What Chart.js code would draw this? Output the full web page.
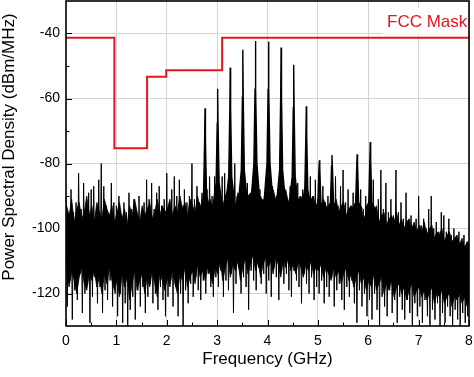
<!DOCTYPE html>
<html>
<head>
<meta charset="utf-8">
<script src="https://cdn.jsdelivr.net/npm/chart.js@4.4.0/dist/chart.umd.min.js"></script>
<style>
  body { margin: 0; background: #fff; }
</style>
</head>
<body>
<canvas id="psd-chart" width="474" height="377"></canvas>
<script>
// tick labels
var xTicks = [0, 1, 2, 3, 4, 5, 6, 7, 8];
var yTicks = [-120, -100, -80, -60, -40];
var xMinor = [0.5, 1.5, 2.5, 3.5, 4.5, 5.5, 6.5, 7.5];
var yMinor = [-110, -90, -70, -50];

// FCC indoor mask (GHz, dBm/MHz)
var maskFreqs = [0, 0.96, 1.61, 1.99, 3.1, 8];
var maskLevels = [-41.3, -75.3, -53.3, -51.3, -41.3, -41.3];

// spectral lines of the pulse train
var peakFreqs = [2.76, 3.01, 3.26, 3.51, 3.76, 4.02, 4.27, 4.52, 4.77, 5.03, 5.28, 5.78, 6.04];
var peakLevels = [-63, -57, -50.5, -45, -42.3, -42.5, -44.3, -49.6, -62.4, -79, -77.4, -77.2, -73.4];
var peakSkirt = [-90, -86, -84, -82, -80, -80, -82, -84, -88, -92, -92, -92, -92];

// noise floor, sampled every 0.05 GHz
// spikes: tops and bottoms of the trace
var noiseStep = 0.05;
var noiseHi = [
  -90, -97, -88, -95, -92, -83, -94, -86, -96, -89, -88, -87, -95, -85, -80, -87, -93, -96, -86, -92,
  -93, -90, -96, -92, -95, -89, -94, -91, -96, -90, -95, -92, -85, -91, -86, -94, -89, -87, -93, -91,
  -83, -94, -88, -84, -90, -85, -93, -88, -92, -90, -80, -91, -87, -92, -89, -91, -88, -84, -90, -84,
  -88, -90, -84, -83, -91, -88, -90, -80, -90, -88, -85, -90, -86, -91, -89, -88, -90, -88, -91, -89,
  -88, -90, -87, -91, -88, -86, -90, -89, -91, -87, -88, -90, -86, -90, -88, -87, -89, -84, -90, -85,
  -91, -87, -87, -92, -90, -93, -91, -84, -93, -87, -82, -92, -88, -93, -89, -94, -92, -88, -94, -90,
  -95, -92, -85, -95, -91, -82, -94, -86, -95, -91, -96, -82, -95, -92, -97, -89, -98, -96, -99, -97,
  -90, -99, -97, -100, -94, -90, -100, -98, -101, -95, -96, -101, -97, -102, -100, -103, -101, -104, -102, -105,
  -104
];
var noiseLo = [
  -124, -116, -128, -119, -122, -114, -126, -120, -117, -129, -121, -115, -123, -118, -126, -119, -122, -116, -124, -120,
  -127, -120, -129, -123, -130, -125, -121, -128, -119, -124, -118, -126, -121, -117, -123, -120, -125, -118, -122, -127,
  -121, -116, -124, -118, -127, -120, -130, -119, -123, -117, -121, -115, -119, -122, -116, -120, -114, -118, -121, -115,
  -118, -113, -121, -116, -119, -114, -126, -117, -112, -120, -115, -118, -125, -113, -116, -119, -112, -117, -114, -120,
  -116, -121, -112, -115, -122, -113, -117, -114, -119, -121, -113, -116, -118, -123, -114, -117, -120, -115, -122, -118,
  -120, -116, -123, -118, -121, -115, -124, -119, -117, -122, -125, -118, -121, -116, -123, -129, -119, -124, -120, -127,
  -122, -128, -120, -125, -130, -121, -124, -127, -119, -126, -122, -129, -121, -125, -128, -122, -126, -130, -123, -127,
  -124, -129, -122, -127, -130, -125, -128, -123, -130, -126, -129, -124, -127, -130, -125, -128, -130, -126, -129, -127,
  -130
];
// ragged upper and lower edges of the solid band
var bandTop = [
  -93, -96, -91, -98, -94, -92, -97, -95, -90, -96, -93, -98, -92, -95, -97, -91, -94, -96, -93, -98,
  -95, -92, -97, -94, -99, -93, -96, -91, -95, -98, -93, -96, -94, -92, -97, -95, -91, -96, -93, -95,
  -94, -91, -96, -93, -95, -90, -94, -92, -96, -91, -93, -95, -90, -94, -92, -89, -93, -91, -94, -90,
  -92, -89, -93, -90, -88, -92, -90, -93, -89, -91, -88, -92, -90, -89, -93, -88, -91, -90, -92, -89,
  -90, -92, -88, -91, -89, -93, -90, -88, -92, -90, -89, -93, -91, -90, -92, -89, -93, -91, -90, -94,
  -92, -94, -91, -93, -95, -92, -94, -91, -95, -93, -92, -96, -94, -93, -95, -92, -96, -94, -97, -95,
  -94, -97, -95, -93, -98, -96, -95, -99, -97, -96, -98, -95, -99, -97, -100, -98, -97, -100, -98, -101,
  -99, -101, -98, -102, -100, -99, -103, -101, -102, -100, -104, -102, -101, -104, -103, -102, -105, -103, -106, -104,
  -105
];
var bandBottom = [
  -114, -118, -113, -116, -120, -115, -112, -117, -119, -114, -116, -113, -118, -115, -120, -114, -117, -112, -116, -119,
  -116, -121, -114, -118, -115, -122, -117, -113, -119, -116, -114, -120, -115, -118, -113, -117, -121, -114, -116, -119,
  -115, -118, -113, -117, -120, -114, -116, -112, -118, -115, -113, -117, -111, -115, -113, -116, -112, -114, -117, -112,
  -114, -110, -116, -112, -109, -115, -111, -113, -110, -116, -112, -109, -114, -111, -108, -113, -110, -115, -111, -109,
  -112, -110, -114, -109, -111, -115, -110, -112, -109, -113, -111, -114, -110, -112, -115, -111, -113, -110, -114, -112,
  -113, -111, -115, -112, -114, -116, -112, -115, -113, -117, -114, -112, -116, -114, -118, -115, -113, -117, -115, -119,
  -116, -118, -114, -119, -117, -115, -120, -117, -119, -116, -121, -118, -117, -120, -118, -122, -119, -117, -121, -119,
  -118, -121, -119, -122, -120, -118, -123, -120, -121, -119, -123, -121, -120, -124, -121, -122, -120, -123, -121, -124,
  -122
];

var FONT = "'Liberation Sans', Arial, sans-serif";
Chart.defaults.font.family = FONT;
Chart.defaults.color = '#000';

// build the point lists
var maskData = [];
for (var i = 0; i < maskFreqs.length; i++) {
    maskData.push({x: maskFreqs[i], y: maskLevels[i]});
}

var noiseData = [];
for (var i = 0; i < noiseHi.length; i++) {
    noiseData.push({x: i * noiseStep, y: noiseHi[i]});
    noiseData.push({x: (i + 0.5) * noiseStep, y: noiseLo[i]});
}

var bandTopData = [], bandBottomData = [];
for (var i = 0; i < bandTop.length; i++) {
    bandTopData.push({x: (i + 0.25) * noiseStep, y: bandTop[i]});
    bandBottomData.push({x: (i + 0.25) * noiseStep, y: bandBottom[i]});
}

var peakData = [];
for (var i = 0; i < peakFreqs.length; i++) {
    var f = peakFreqs[i];
    peakData.push({x: f - 0.1, y: -94});
    peakData.push({x: f - 0.03, y: peakSkirt[i]});
    peakData.push({x: f - 0.008, y: (peakSkirt[i] + peakLevels[i]) / 2 + 4});
    peakData.push({x: f, y: peakLevels[i]});
    peakData.push({x: f + 0.008, y: (peakSkirt[i] + peakLevels[i]) / 2 + 4});
    peakData.push({x: f + 0.03, y: peakSkirt[i]});
    peakData.push({x: f + 0.1, y: -94});
    peakData.push({x: f + 0.1, y: null});
}

// frame, inner ticks, axis titles, legend label
var framePlugin = {
    id: 'frame',
    beforeDatasetsDraw: function(chart) {
        var ctx = chart.ctx;
        ctx.save();
        ctx.fillStyle = '#fff';
        ctx.fillRect(383, 8, chart.chartArea.right - 384, 26.5);
        ctx.restore();
    },
    afterDraw: function(chart) {
        var ctx = chart.ctx, a = chart.chartArea;
        var xs = chart.scales.x, ys = chart.scales.y;
        ctx.save();
        ctx.strokeStyle = '#000';
        ctx.lineWidth = 1;
        ctx.beginPath();
        yTicks.forEach(function(v) {
            var py = Math.round(ys.getPixelForValue(v)) + 0.5;
            ctx.moveTo(a.left, py); ctx.lineTo(a.left + 6, py);
        });
        yMinor.forEach(function(v) {
            var py = Math.round(ys.getPixelForValue(v)) + 0.5;
            ctx.moveTo(a.left, py); ctx.lineTo(a.left + 3.5, py);
        });
        xTicks.forEach(function(v) {
            var px = Math.round(xs.getPixelForValue(v)) + 0.5;
            ctx.moveTo(px, a.bottom); ctx.lineTo(px, a.bottom - 6);
        });
        xMinor.forEach(function(v) {
            var px = Math.round(xs.getPixelForValue(v)) + 0.5;
            ctx.moveTo(px, a.bottom); ctx.lineTo(px, a.bottom - 3.5);
        });
        ctx.stroke();

        ctx.lineWidth = 1.6;
        ctx.strokeRect(a.left, a.top, a.right - a.left, a.bottom - a.top);

        ctx.fillStyle = '#000';
        ctx.font = '17px ' + FONT;
        ctx.textAlign = 'center';
        ctx.textBaseline = 'middle';
        ctx.fillText('Frequency (GHz)', (a.left + a.right) / 2, 359);
        ctx.translate(9, 147);
        ctx.rotate(-Math.PI / 2);
        ctx.fillText('Power Spectral Density (dBm/MHz)', 0, 0);
        ctx.restore();

        ctx.save();
        ctx.fillStyle = '#e3161e';
        ctx.font = '17px ' + FONT;
        ctx.textAlign = 'left';
        ctx.textBaseline = 'middle';
        ctx.fillText('FCC Mask', 387, 22);
        ctx.restore();
    }
};

var ctx = document.getElementById('psd-chart');

var chartData = {
    datasets: [{
        label: 'FCC Mask',
        data: maskData,
        borderColor: '#e3161e',
        borderWidth: 2,
        stepped: 'before',
        pointRadius: 0,
        fill: false
    }, {
        label: 'Lines',
        data: peakData,
        borderColor: '#000',
        backgroundColor: '#000',
        borderWidth: 1.4,
        pointRadius: 0,
        spanGaps: false,
        fill: {value: -100}
    }, {
        label: 'Noise',
        data: noiseData,
        borderColor: '#000',
        borderWidth: 1,
        pointRadius: 0,
        fill: false
    }, {
        label: 'Band top',
        data: bandTopData,
        borderWidth: 0.8,
        borderColor: '#000',
        backgroundColor: '#000',
        pointRadius: 0,
        fill: '+1'
    }, {
        label: 'Band bottom',
        data: bandBottomData,
        borderWidth: 0.8,
        borderColor: '#000',
        pointRadius: 0,
        fill: false
    }]
};

var config = {
    type: 'line',
    data: chartData,
    plugins: [framePlugin],
    options: {
        responsive: false,
        animation: false,
        events: [],
        layout: {padding: {top: 1, right: 5, left: 0, bottom: 0}},
        elements: {line: {tension: 0}},
        plugins: {legend: {display: false}, tooltip: {enabled: false}},
        scales: {
            x: {
                type: 'linear',
                min: 0,
                max: 8,
                afterBuildTicks: function(scale) {
                    scale.ticks = xTicks.map(function(v) { return {value: v}; });
                },
                afterFit: function(scale) {
                    scale.height = 51;
                    scale.paddingLeft = 0;
                    scale.paddingRight = 0;
                },
                grid: {color: '#d4d4d4', drawTicks: false},
                border: {display: false},
                ticks: {font: {size: 14}, padding: 7, maxRotation: 0}
            },
            y: {
                type: 'linear',
                min: -130,
                max: -30,
                afterBuildTicks: function(scale) {
                    scale.ticks = yTicks.map(function(v) { return {value: v}; });
                },
                afterFit: function(scale) {
                    scale.width = 66;
                    scale.paddingTop = 0;
                    scale.paddingBottom = 0;
                },
                grid: {color: '#d4d4d4', drawTicks: false},
                border: {display: false},
                ticks: {font: {size: 14}, padding: 6}
            }
        }
    }
};

// Create the chart
var psdChart = new Chart(ctx, config);
</script>
</body>
</html>
